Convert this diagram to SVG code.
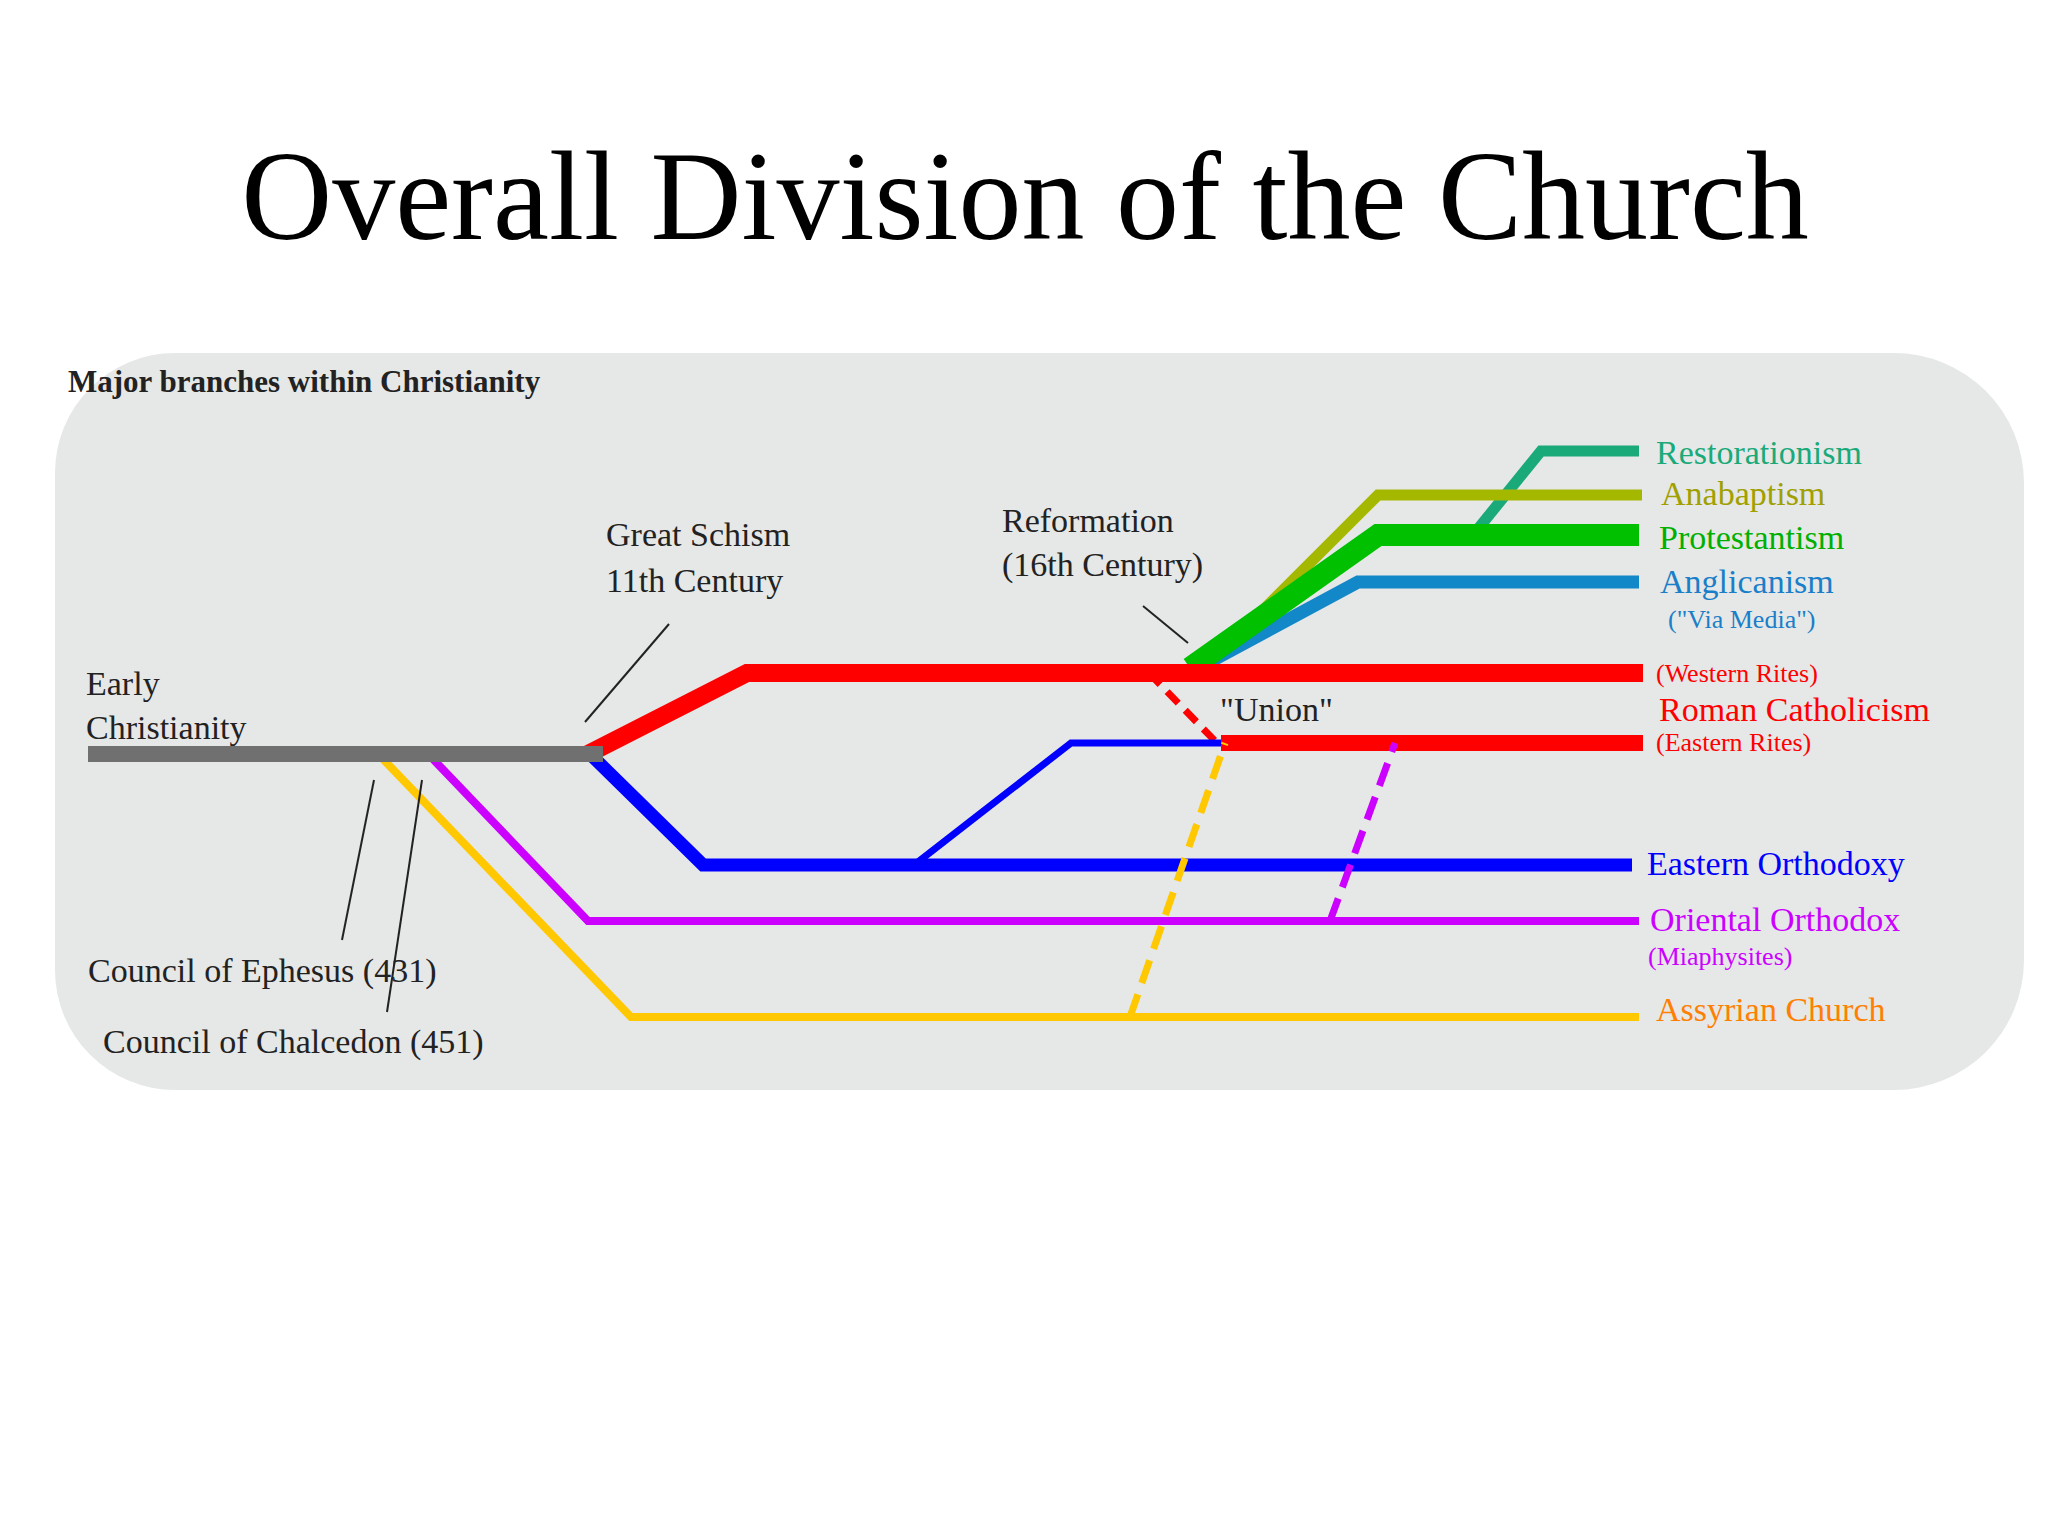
<svg xmlns="http://www.w3.org/2000/svg" width="2048" height="1536" viewBox="0 0 2048 1536">
<style>
text{font-family:"Liberation Serif","Times New Roman",serif;fill:#222}
.l{font-size:34px}
.s{font-size:26px}
.ln{fill:none;stroke-linejoin:miter;stroke-linecap:butt}
.lead{stroke:#222;stroke-width:2;fill:none}
</style>
<rect width="2048" height="1536" fill="#fff"/>
<text x="1025" y="239" font-size="126" text-anchor="middle" style="fill:#000">Overall Division of the Church</text>
<g id="panel">
<path d="M175 353 H1894 A130 130 0 0 1 2024 483 V960 A130 130 0 0 1 1894 1090 H175 A120 120 0 0 1 55 970 V473 A120 120 0 0 1 175 353 Z" fill="#e6e7e7"/>
<text x="68" y="392" font-size="31" font-weight="bold">Major branches within Christianity</text>
</g>
<g id="connectors">
<path class="ln" d="M1473 535 L1541 451 H1639" stroke="#1aaa7a" stroke-width="11"/>
<path class="ln" d="M1208 665 L1378 495 H1642" stroke="#a5b800" stroke-width="11"/>
<path class="ln" d="M1202 666 L1358 582 H1639" stroke="#1388c8" stroke-width="13"/>
<path class="ln" d="M1190 668 L1378 535 H1639" stroke="#00c000" stroke-width="22"/>
<path class="ln" d="M588 754 L747 673 H1643" stroke="#ff0000" stroke-width="18"/>
<path class="ln" d="M1149 673 L1217 743" stroke="#ff0000" stroke-width="7" stroke-dasharray="16,10"/>
<path class="ln" d="M914 865 L1071 743 H1225" stroke="#0000ff" stroke-width="7"/>
<path class="ln" d="M590 754 L703 865 H1632" stroke="#0000ff" stroke-width="13"/>
<path class="ln" d="M431 757 L588 921 H1639" stroke="#cc00ff" stroke-width="8"/>
<path class="ln" d="M381 757 L631 1017 H1639" stroke="#ffc800" stroke-width="8"/>
<path class="ln" d="M1221 743 H1643" stroke="#ff0000" stroke-width="16"/>
<path class="ln" d="M1130 1017 L1225 743" stroke="#ffc800" stroke-width="7" stroke-dasharray="24,12"/>
<path class="ln" d="M1330 921 L1395 743" stroke="#cc00ff" stroke-width="7" stroke-dasharray="24,12"/>
<path class="ln" d="M88 754 H603" stroke="#707070" stroke-width="16"/>
<path class="lead" d="M585 722 L669 624"/>
<path class="lead" d="M1143 606 L1188 643"/>
<path class="lead" d="M374 780 L342 940"/>
<path class="lead" d="M422 780 L387 1012"/>
</g>
<g id="labels">
<text class="l" x="86" y="695">Early</text>
<text class="l" x="86" y="739">Christianity</text>
<text class="l" x="606" y="546">Great Schism</text>
<text class="l" x="606" y="592">11th Century</text>
<text class="l" x="1002" y="532">Reformation</text>
<text class="l" x="1002" y="576">(16th Century)</text>
<text class="l" x="1220" y="721">"Union"</text>
<text class="l" x="88" y="982">Council of Ephesus (431)</text>
<text class="l" x="103" y="1053">Council of Chalcedon (451)</text>
<text class="l" x="1656" y="464" style="fill:#1aaa7a">Restorationism</text>
<text class="l" x="1661" y="505" style="fill:#a0a000">Anabaptism</text>
<text class="l" x="1659" y="549" style="fill:#00b000">Protestantism</text>
<text class="l" x="1660" y="593" style="fill:#1a7fc8">Anglicanism</text>
<text class="s" x="1668" y="628" style="fill:#1a7fc8">("Via Media")</text>
<text class="s" x="1656" y="682" style="fill:#ff0000">(Western Rites)</text>
<text class="l" x="1659" y="721" style="fill:#ff0000">Roman Catholicism</text>
<text class="s" x="1656" y="751" style="fill:#ff0000">(Eastern Rites)</text>
<text class="l" x="1647" y="875" style="fill:#0000ff">Eastern Orthodoxy</text>
<text class="l" x="1650" y="931" style="fill:#cc00ff">Oriental Orthodox</text>
<text class="s" x="1648" y="965" style="fill:#cc00ff">(Miaphysites)</text>
<text class="l" x="1656" y="1021" style="fill:#ff8000">Assyrian Church</text>
</g>
</svg>
